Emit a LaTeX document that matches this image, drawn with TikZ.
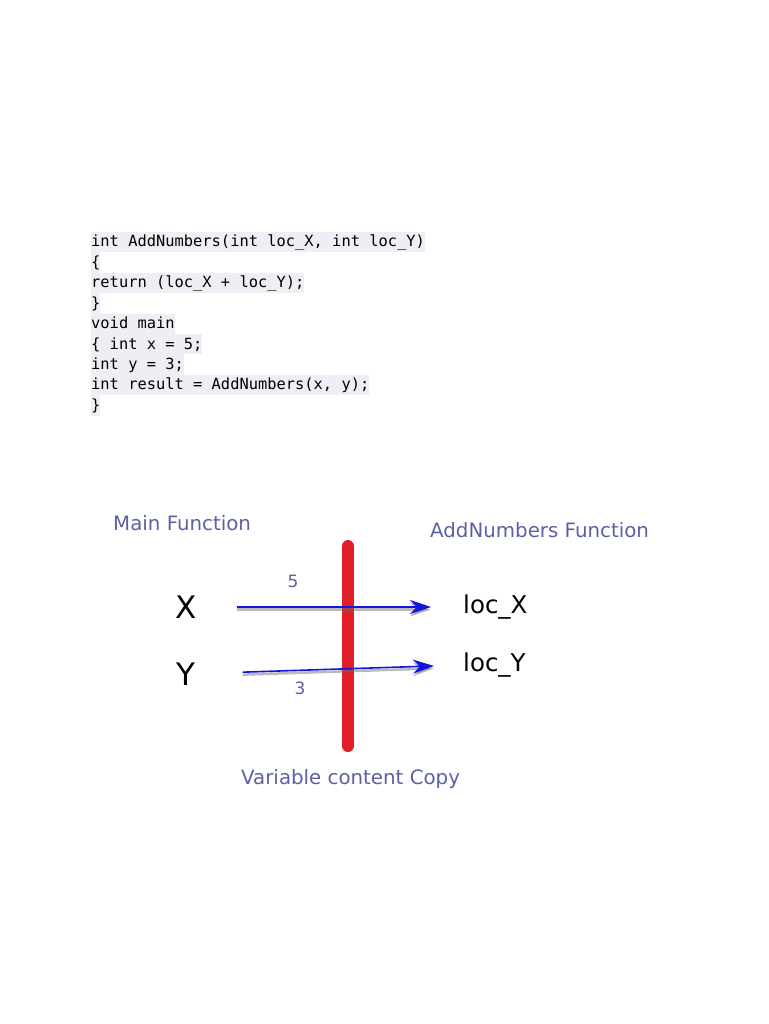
\documentclass[tikz,border=0pt]{standalone}
\usepackage{fontspec}
\setmainfont{DejaVu Sans}
\newfontfamily\codefont{DejaVu Sans Mono}
\usepackage{xcolor}
\usepackage{tikz}
\usetikzlibrary{arrows.meta, positioning}

\definecolor{codebg}{RGB}{240,238,245}
\definecolor{labelblue}{RGB}{92,96,165}
\definecolor{barred}{RGB}{225,30,40}
\definecolor{arrowblue}{RGB}{20,20,225}

\begin{document}
\begin{tikzpicture}[
    x=1pt, y=-1pt,
    codeline/.style={anchor=base west, fill=codebg, inner xsep=0pt, inner ysep=0pt, text height=15pt, text depth=5.4pt, font=\codefont\fontsize{15.4}{18}\selectfont},
    caption/.style={anchor=west, text=labelblue, inner sep=0pt, font=\fontsize{19.8}{23}\selectfont},
    var/.style={inner sep=0pt, font=\fontsize{31}{35}\selectfont},
    param/.style={anchor=west, inner sep=0pt, font=\fontsize{24.5}{28}\selectfont},
    value/.style={text=labelblue, inner sep=0pt, font=\fontsize{17}{20}\selectfont},
    copyarrow/.style={-{Stealth[length=21pt, width=14pt]}, draw=arrowblue, fill=arrowblue, line width=1.6pt,
        preaction={draw=black!60, opacity=0.45, line width=2.5pt, transform canvas={yshift=-2.5pt}}},
]
\useasboundingbox (0,0) rectangle (768,1024);

% Code listing
\node[codeline] (code1) at (91,247) {int AddNumbers(int loc\_X, int loc\_Y)};
\node[codeline] (code2) at (91,267.4) {\{};
\node[codeline] (code3) at (91,287.8) {return (loc\_X + loc\_Y);};
\node[codeline] (code4) at (91,308.2) {\}};
\node[codeline] (code5) at (91,328.6) {void main};
\node[codeline] (code6) at (91,349) {\{ int x = 5;};
\node[codeline] (code7) at (91,369.4) {int y = 3;};
\node[codeline] (code8) at (91,389.8) {int result = AddNumbers(x, y);};
\node[codeline] (code9) at (91,410.2) {\}};

% Captions
\node[caption] (mainfn) at (113,523) {Main Function};
\node[caption] (addfn) at (430,530) {AddNumbers Function};
\node[caption] (copy) at (241,779) {Variable content Copy};

% Separator bar
\draw[barred, line width=12pt, line cap=round] (348,546) -- (348,746);

% Variables
\node[var] (x) at (186,607) {X};
\node[var] (y) at (186,674) {Y};
\node[param] (locx) at (463,607) {loc\_X};
\node[param] (locy) at (463,665) {loc\_Y};

% Copy arrows
\draw[copyarrow, shorten <=40pt, shorten >=32pt] (x) -- (locx.west);
\draw[copyarrow, shorten <=47pt, shorten >=29pt] (y) -- (locy.west);
\node[value] (five) at (293,581) {5};
\node[value] (three) at (300,688) {3};

\end{tikzpicture}
\end{document}
